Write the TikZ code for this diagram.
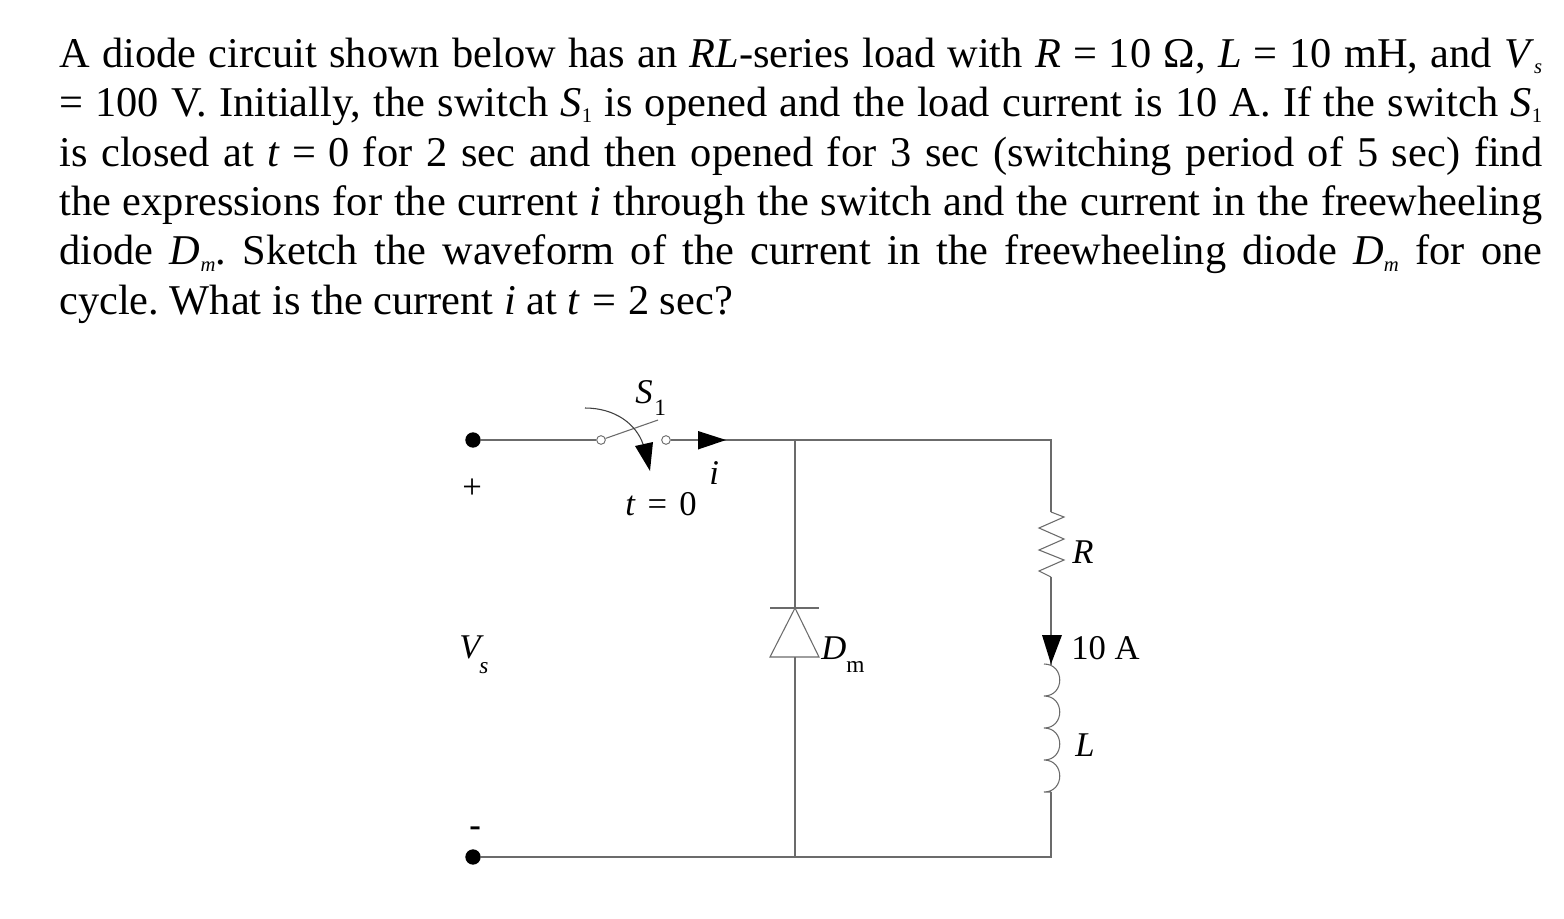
\documentclass[tikz,border=0pt]{standalone}
\usepackage{fontspec}
\setmainfont{Liberation Serif}
\newcommand{\lowr}[1]{\raisebox{-5.2pt}{\fontsize{15.5}{15.5}\selectfont #1}}
\newcommand{\txtl}[1]{\makebox[1112.25pt][s]{\frenchspacing #1}}
\newcommand{\eqq}{\kern0.28em=\kern0.28em}
\tikzset{
 para/.style={anchor=base west,inner sep=0pt,font=\fontsize{31.8}{36}\selectfont},
 wire/.style={draw=black!58,line width=0.8pt},
 lab/.style={inner sep=0pt,anchor=base west,font=\fontsize{26}{30}\selectfont},
 tiny/.style={inner sep=0pt,anchor=base west,font=\fontsize{17.5}{20}\selectfont},
 term/.style={circle,fill=black,inner sep=0pt,minimum size=11.5pt},
 cont/.style={circle,draw=black!58,fill=white,line width=0.7pt,inner sep=0pt,minimum size=6.5pt},
 head/.style={fill=black,draw=none}
}
\begin{document}
\begin{tikzpicture}[x=0.75pt,y=-0.75pt]
\useasboundingbox (0,0) rectangle (1564,918);
\fill[white] (0,0) rectangle (1564,918);
\node[para] (l1) at (59,67) {\txtl{A diode circuit shown below has an \textit{RL}-series load with \textit{R}\eqq 10 Ω, \textit{L}\eqq 10 mH, and \textit{V}\lowr{\textit{s}}}};
\node[para] (l2) at (59,116) {\txtl{= 100 V. Initially, the switch \textit{S}\lowr{1} is opened and the load current is 10 A. If the switch \textit{S}\lowr{1}}};
\node[para] (l3) at (59,166) {\txtl{is closed at \textit{t}\eqq 0 for 2 sec and then opened for 3 sec (switching period of 5 sec) find}};
\node[para] (l4) at (59,215.5) {\txtl{the expressions for the current \textit{i} through the switch and the current in the freewheeling}};
\node[para] (l5) at (59,264.5) {\txtl{diode \textit{D}\lowr{\textit{m}}. Sketch the waveform of the current in the freewheeling diode \textit{D}\lowr{\textit{m}} for one}};
\node[para] (l6) at (59,314) {\frenchspacing cycle. What is the current \textit{i} at \textit{t}\eqq 2 sec?};

\node[term] (tp) at (473,440) {};
\node[term] (tm) at (473,857) {};
\node[cont] (c1) at (601,440) {};
\node[cont] (c2) at (666,440) {};
\coordinate (tr) at (1051,440);
\coordinate (br) at (1051,857);
\coordinate (jt) at (795,440);
\coordinate (jb) at (795,857);
\coordinate (swe) at (658,420);
\coordinate (arcs) at (585,408);
\coordinate (arce) at (643,444);
\coordinate (dk) at (795,608);
\coordinate (da) at (795,657);
\coordinate (rt) at (1051,512);
\coordinate (rb) at (1051,577);
\coordinate (lt) at (1051,665);
\coordinate (lb) at (1051,792);

% wires
\draw[wire] (tp) -- (c1);
\draw[wire] (c2) -- (tr) -- (rt);
\draw[wire] (tm) -- (br) -- (lb);
\draw[wire] (jt) -- (dk);
\draw[wire] (da) -- (jb);
\draw[wire] (rb) -- (lt);
\draw[wire] (c1) -- (swe);
\draw[wire,draw=black!75] (arcs) .. controls (615,408) and (636,424) .. (arce);
% arrowheads
\fill[head] (698,431) -- (726,440) -- (698,449.5) -- cycle;
\fill[head] (635,446) -- (653,442) -- (650,471) -- cycle;
\fill[head] (1042,635) -- (1062,635) -- (1051,664) -- cycle;
% diode
\draw[wire] (770,608) -- (819,608);
\draw[wire,line join=miter] (795,608) -- (770,657) -- (819,657) -- cycle;
% resistor
\draw[wire,line join=miter] (rt) -- (1064,517) -- (1039,528) -- (1064,539) -- (1039,550) -- (1064,560) -- (1039,571) -- (rb);
% inductor
\draw[wire] (1044,664) .. controls (1065,664) and (1065,696) .. (1044,696)
  .. controls (1065,696) and (1065,728) .. (1044,728)
  .. controls (1065,728) and (1065,760) .. (1044,760)
  .. controls (1065,760) and (1065,792) .. (1044,792) -- (lb);
% labels
\node[lab] (s) at (635,403) {\textit{S}};
\node[tiny] (s1) at (654,415) {1};
\node[lab] (t0) at (625,515) {\textit{t}\kern0.35em=\kern0.35em 0};
\node[lab] (ii) at (709,484) {\textit{i}};
\node[lab] (plus) at (462,498) {+};
\node[lab] (vs) at (459,658) {\textit{V}};
\node[tiny] (vss) at (479,673) {\textit{s}};
\node[lab] (minus) at (469,836) {\textbf{-}};
\node[lab] (dm) at (821,659) {\textit{D}};
\node[tiny] (dms) at (846,672) {m};
\node[lab] (rl) at (1072,563) {\textit{R}};
\node[lab] (ia) at (1071,659) {10 A};
\node[lab] (ll) at (1075,756) {\textit{L}};
\end{tikzpicture}
\end{document}
